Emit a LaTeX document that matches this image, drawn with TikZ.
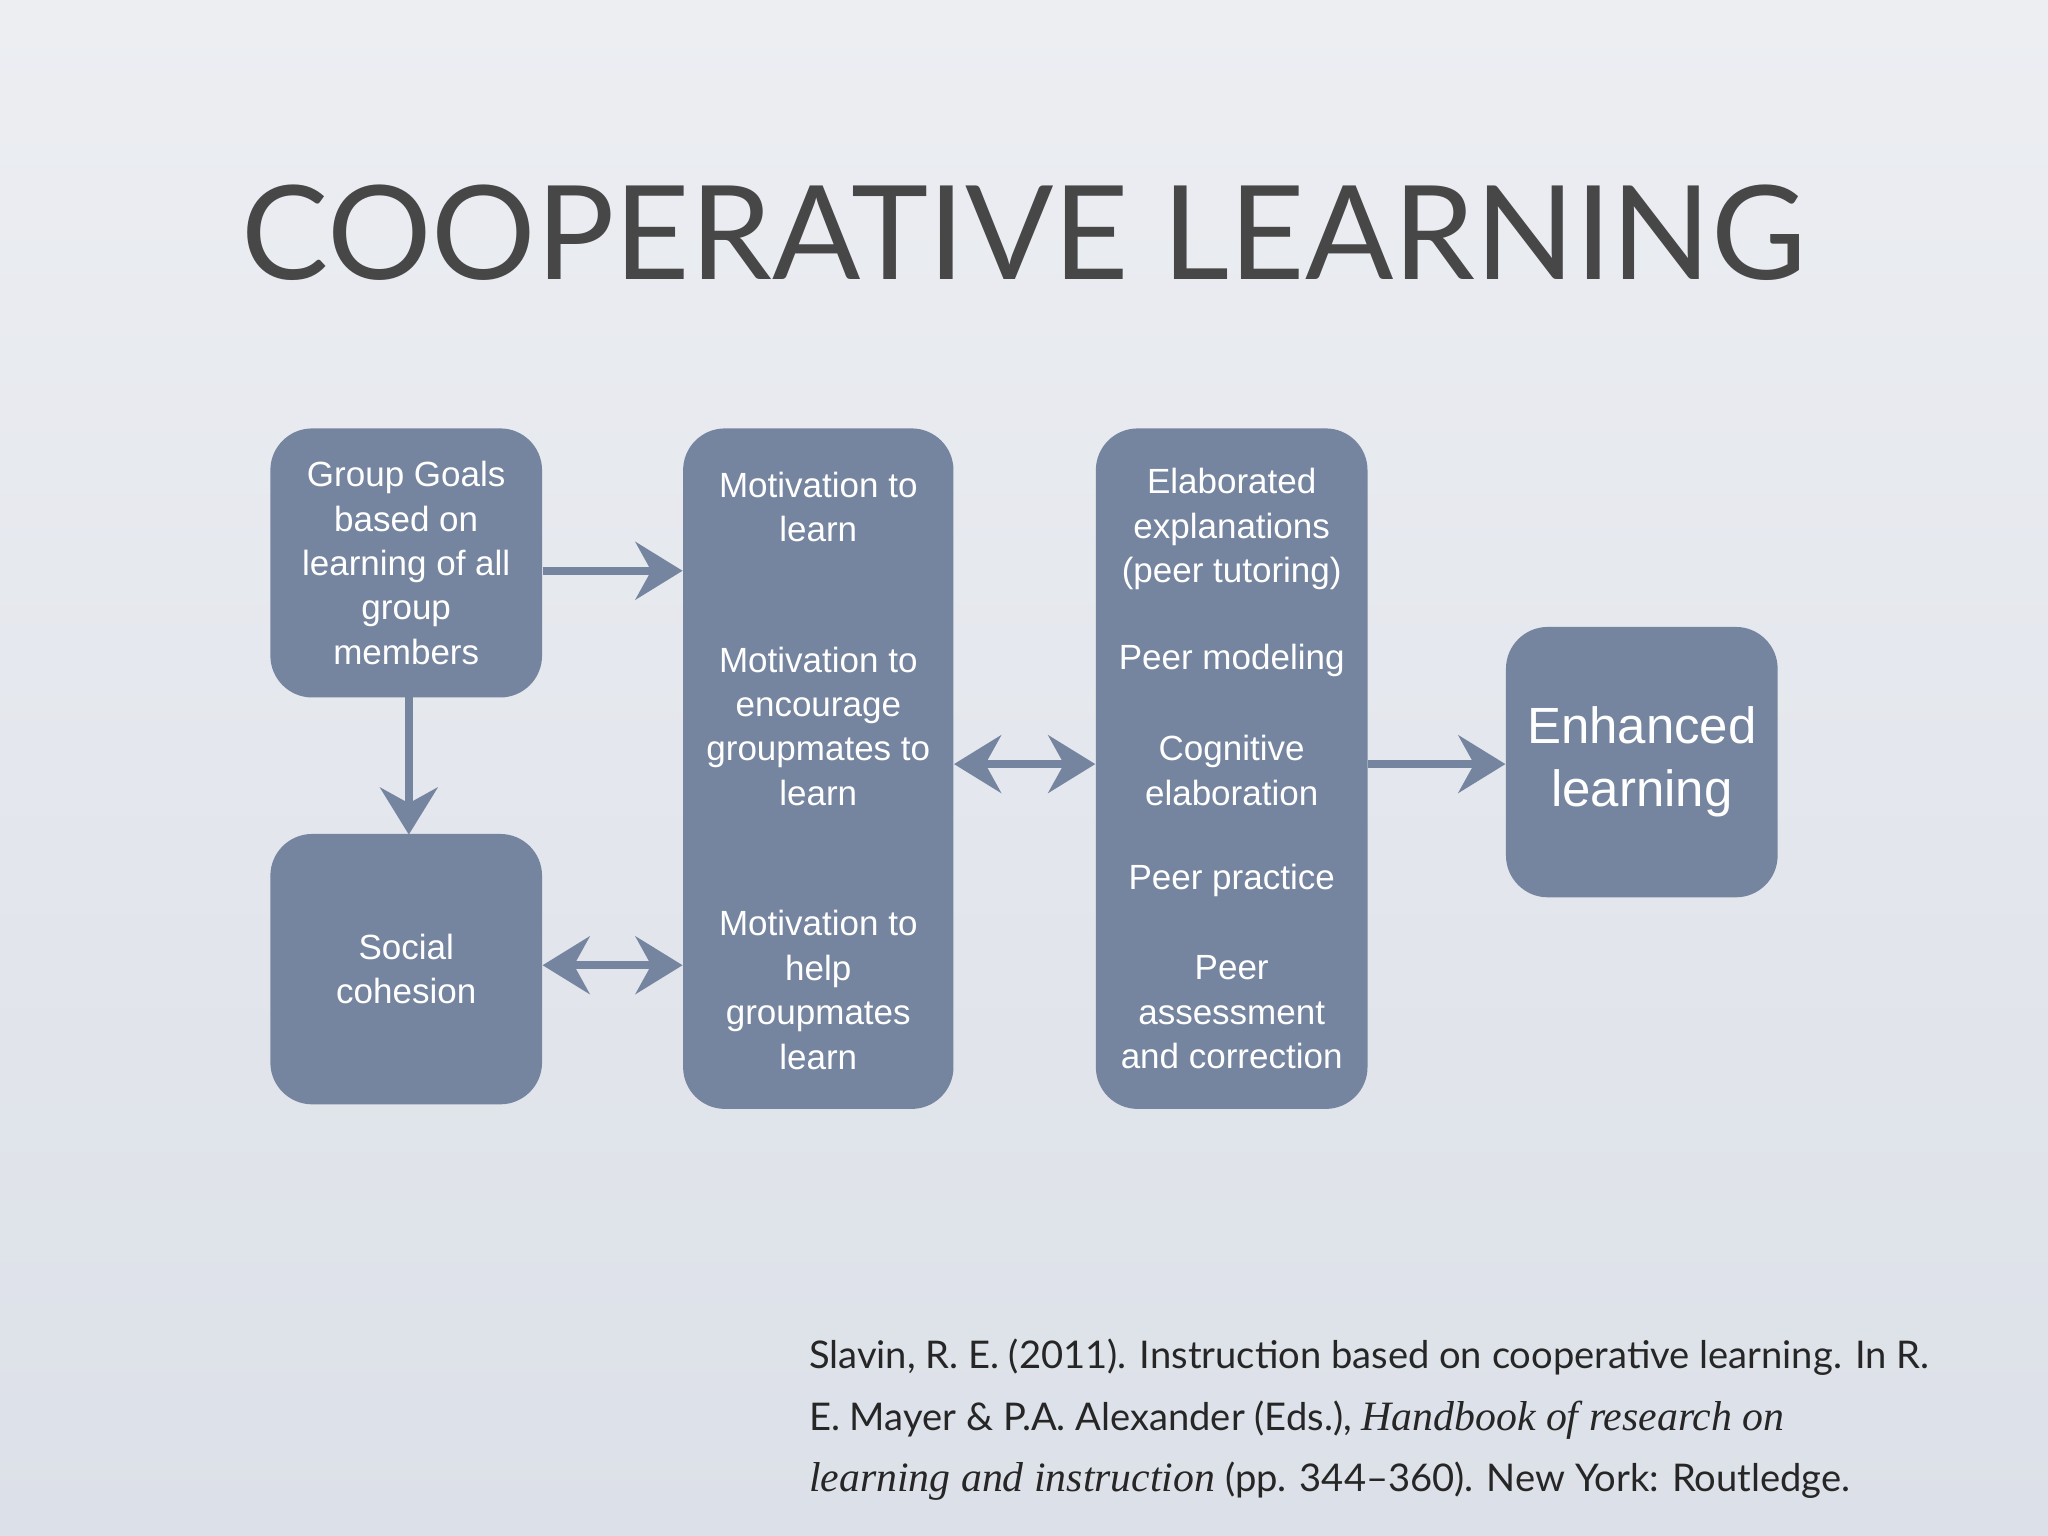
\documentclass[tikz,border=0pt]{standalone}
\usepackage{fontspec}
\setmainfont{Liberation Sans}
\newfontfamily\titlefont{Lato}
\newfontfamily\citefont{Lato}
\newfontfamily\citeital{Liberation Serif}
\usetikzlibrary{arrows.meta}
\definecolor{boxc}{HTML}{7585A0}
\definecolor{bgtop}{HTML}{ECEEF2}
\definecolor{bgbot}{HTML}{DCE0E8}
\tikzset{
 box/.style={fill=boxc,rounded corners=16pt,text=white,align=center,font=\fontsize{13.4}{17}\selectfont,inner sep=0pt},
 arr/.style={draw=boxc,line width=3pt,-{Stealth[length=18pt,width=22pt,inset=6pt]}},
 darr/.style={draw=boxc,line width=3pt,{Stealth[length=18pt,width=22pt,inset=6pt]}-{Stealth[length=18pt,width=22pt,inset=6pt]}},
}
\begin{document}
\begin{tikzpicture}[x=0.5pt,y=-0.5pt]
\useasboundingbox (0,0) rectangle (1568,1176);
\shade[top color=bgtop,bottom color=bgbot] (0,0) rectangle (1568,1176);
\node[text=black!72,font=\titlefont\fontsize{50}{56}\selectfont] (title) at (784,178) {COOPERATIVE LEARNING};
\node[box,minimum width=104pt,minimum height=103pt] (gg) at (311,431) {Group Goals\\based on\\learning of all\\group\\members};
\node[box,minimum width=104pt,minimum height=103.5pt] (sc) at (311,742) {Social\\cohesion};
\node[box,minimum width=103.5pt,minimum height=260.5pt] (mid) at (626.5,588.5) {};
\node[box] (m1) at (626.5,388) {Motivation to\\learn};
\node[box] (m2) at (626.5,556) {Motivation to\\encourage\\groupmates to\\learn};
\node[box] (m3) at (626.5,758) {Motivation to\\help\\groupmates\\learn};
\node[box,minimum width=104pt,minimum height=260.5pt] (rc) at (943,588.5) {};
\node[box] (r1) at (943,405) {Elaborated\\explanations\\(peer tutoring)};
\node[box] (r2) at (943,506) {Peer modeling};
\node[box] (r3) at (943,590) {Cognitive\\elaboration};
\node[box] (r4) at (943,674) {Peer practice};
\node[box] (r5) at (943,775) {Peer\\assessment\\and correction};
\node[box,minimum width=104pt,minimum height=103.5pt,font=\fontsize{19.5}{24}\selectfont] (en) at (1257,583.5) {Enhanced\\learning};
\draw[arr] (gg.east|-0,437) -- (mid.west|-0,437);
\draw[arr] (313,534) -- (313,639);
\draw[darr] (sc.east|-0,739) -- (mid.west|-0,739);
\draw[darr] (mid.east|-0,585) -- (rc.west|-0,585);
\draw[arr] (rc.east|-0,585) -- (en.west|-0,585);
\node[anchor=north west,align=left,text=black!85,font=\citefont\fontsize{14.6}{23.5}\selectfont,inner sep=0pt] (cite) at (619,1025)
{Slavin, R. E. (2011). Instruction based on cooperative learning. In R.\\
E. Mayer \& P.A. Alexander (Eds.), {\citeital\itshape\fontsize{16}{23.5}\selectfont Handbook of research on}\\
{\citeital\itshape\fontsize{16}{23.5}\selectfont learning and instruction} (pp. 344–360). New York: Routledge.};
\end{tikzpicture}
\end{document}
